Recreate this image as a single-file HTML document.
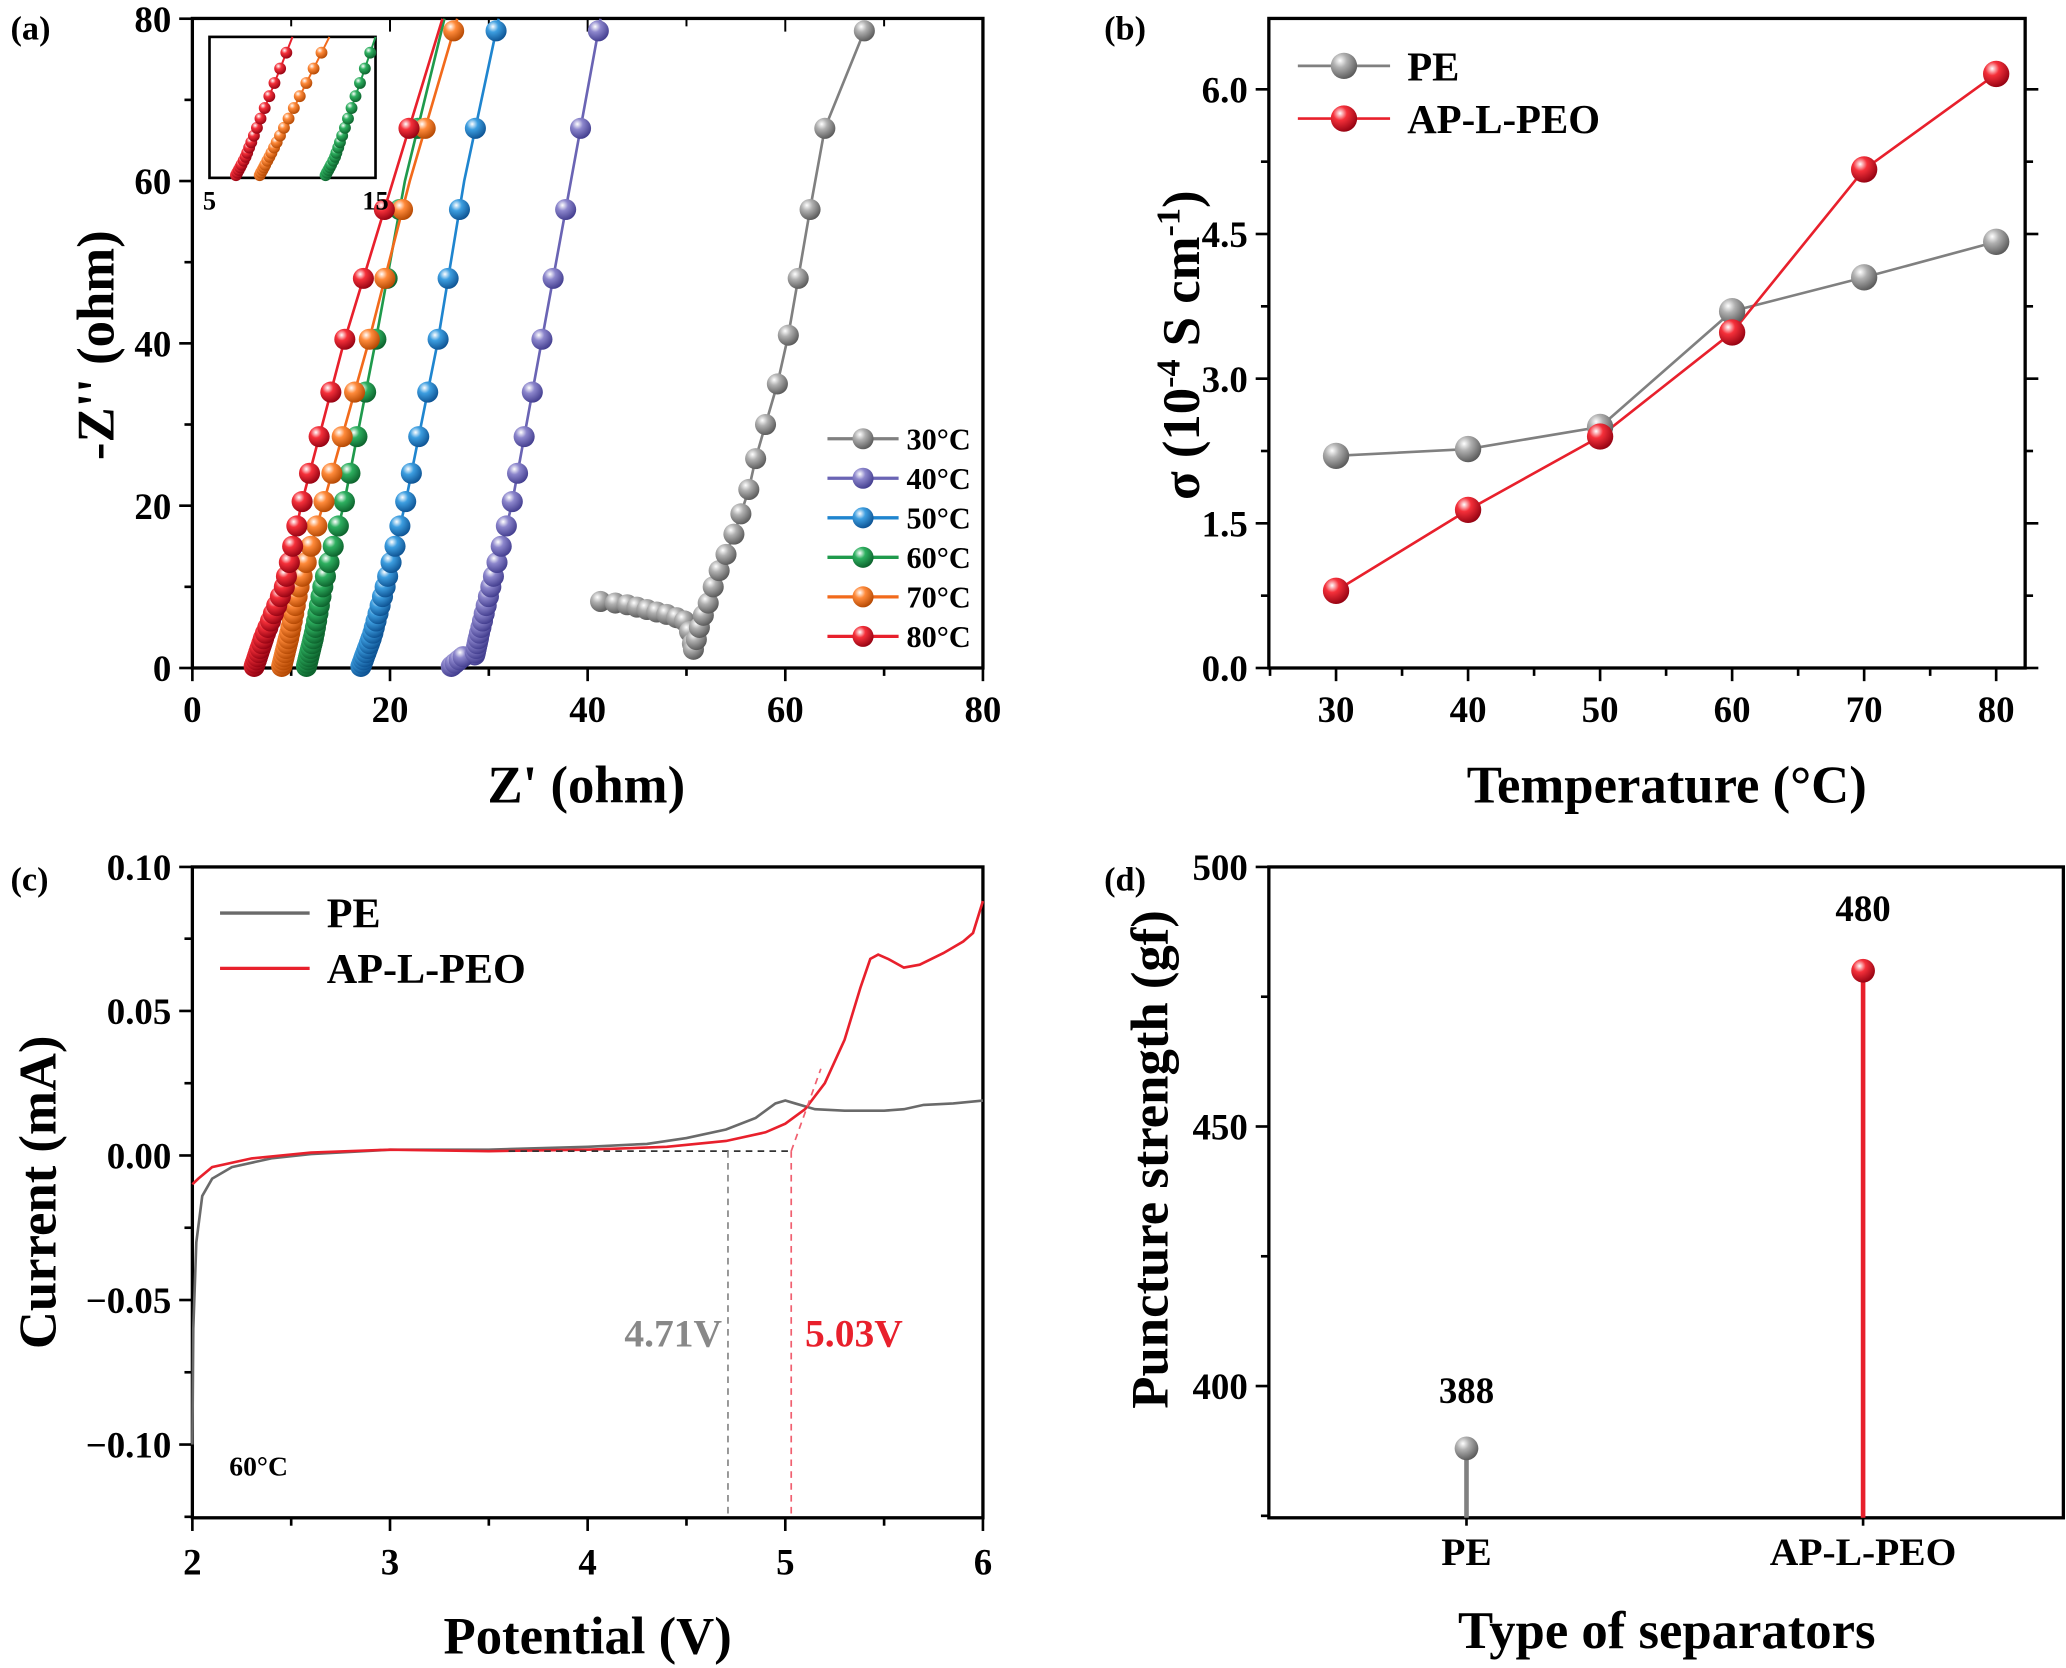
<!DOCTYPE html>
<html><head><meta charset="utf-8">
<style>html,body{margin:0;padding:0;background:#fff}svg{display:block}text{font-family:"Liberation Serif",serif;font-weight:bold}</style>
</head><body>
<svg id="s" width="2066" height="1668" viewBox="0 0 1568 1266" preserveAspectRatio="none" xmlns="http://www.w3.org/2000/svg">
<defs>
<radialGradient id="g_gray" cx="0.35" cy="0.3" r="0.75"><stop offset="0" stop-color="#fff"/><stop offset="0.35" stop-color="#b0b0b0"/><stop offset="1" stop-color="#555"/></radialGradient>
<radialGradient id="g_purple" cx="0.35" cy="0.3" r="0.75"><stop offset="0" stop-color="#fff"/><stop offset="0.35" stop-color="#8c86cc"/><stop offset="1" stop-color="#3f3a8c"/></radialGradient>
<radialGradient id="g_blue" cx="0.35" cy="0.3" r="0.75"><stop offset="0" stop-color="#fff"/><stop offset="0.35" stop-color="#3d9ee0"/><stop offset="1" stop-color="#0b4f8f"/></radialGradient>
<radialGradient id="g_green" cx="0.35" cy="0.3" r="0.75"><stop offset="0" stop-color="#fff"/><stop offset="0.35" stop-color="#2eb060"/><stop offset="1" stop-color="#0b5e2a"/></radialGradient>
<radialGradient id="g_orange" cx="0.35" cy="0.3" r="0.75"><stop offset="0" stop-color="#fff"/><stop offset="0.35" stop-color="#ff8a3a"/><stop offset="1" stop-color="#b04500"/></radialGradient>
<radialGradient id="g_red" cx="0.35" cy="0.3" r="0.75"><stop offset="0" stop-color="#fff"/><stop offset="0.35" stop-color="#f5303a"/><stop offset="1" stop-color="#900010"/></radialGradient>
</defs>
<g id="root"></g>
</svg>
<script>
const R=document.getElementById('root');let h='';
const C={gray:'#808080',purple:'#6a64b4',blue:'#1f85cf',green:'#1f9a4c',orange:'#f26a1b',red:'#e8202c'};
const TK=28,TT=40,PL=26;
function line(x1,y1,x2,y2,c,w,extra){h+=`<line x1="${x1}" y1="${y1}" x2="${x2}" y2="${y2}" stroke="${c}" stroke-width="${w}" ${extra||''}/>`;}
function txt(x,y,s,sz,anchor,extra){h+=`<text x="${x}" y="${y}" font-size="${sz}" text-anchor="${anchor||'start'}" ${extra||''}>${s}</text>`;}
function ball(x,y,r,c){h+=`<circle cx="${x.toFixed(1)}" cy="${y.toFixed(1)}" r="${r}" fill="url(#g_${c})"/>`;}
function poly(pts,c,w,extra){h+=`<polyline points="${pts.map(p=>p[0].toFixed(1)+','+p[1].toFixed(1)).join(' ')}" fill="none" stroke="${c}" stroke-width="${w}" ${extra||''}/>`;}
function box(x1,y1,x2,y2){h+=`<rect x="${x1}" y="${y1}" width="${x2-x1}" height="${y2-y1}" fill="none" stroke="#000" stroke-width="2.5"/>`;}
function interp(anch,y){for(let i=0;i<anch.length-1;i++){const a=anch[i],b=anch[i+1];if(y>=a[1]&&y<=b[1]){return a[0]+(b[0]-a[0])*(y-a[1])/(b[1]-a[1]);}}return anch[anch.length-1][0];}

// ---------- Panel (a)
const ax=v=>146+v*7.5, ay=v=>507-v*6.16;
box(146,14,746,507);
for(let v=0;v<=80;v+=10){const X=ax(v);line(X,507,X,v%20?513:517,'#000',2);line(X,14,X,v%20?20:24,'#000',1.5);if(v%20==0)txt(X,548,v,TK,'middle');}
for(let v=0;v<=80;v+=10){const Y=ay(v);line(146,Y,v%20?140:136,Y,'#000',2);if(v%20==0)txt(130,Y+10,v,TK,'end');}
txt(445,609,"Z' (ohm)",TT,'middle');
txt(0,0,"-Z'' (ohm)",TT,'middle','transform="translate(86,262) rotate(-90)"');
txt(8,30,"(a)",PL);
const ys=[0.3,0.6,1,1.4,1.9,2.4,3,3.6,4.3,5,5.8,6.7,7.7,8.8,10,11.3,13,15,17.5,20.5,24,28.5,34,40.5,48,56.5,66.5,78.5];
const curves=[
 ['purple',[[26,0],[27.5,1.5],[28.5,1.2],[29,4],[30.2,10],[32.3,20],[35.3,40],[38.3,60],[41.3,80]]],
 ['blue',[[17,0],[18.2,4],[19.5,10],[21.5,20],[24.8,40],[27.5,60],[31,80]]],
 ['green',[[11.5,0],[12.3,4],[13.2,10],[15.3,20],[18.5,40],[21.5,60],[25.5,80]],null,67],
 ['orange',[[9,0],[9.8,4],[10.8,10],[13.2,20],[17.8,40],[22,60],[26.8,80]],null,79],
 ['red',[[6.2,0],[7.3,4],[9.3,10],[11,20],[15.3,40],[20.3,60],[25.3,80]],null,72]
];
const g30=[[41.3,8.2],[42.8,8],[44,7.8],[45,7.5],[46,7.2],[47,6.9],[48,6.6],[49,6.2],[49.8,5.8],[50.3,4.5],[50.6,3],[50.7,2.3],[51,3.5],[51.3,5],[51.7,6.5],[52.2,8],[52.7,10],[53.3,12],[54,14],[54.8,16.5],[55.5,19],[56.3,22],[57,25.8],[58,30],[59.2,35],[60.3,41],[61.3,48],[62.5,56.5],[64,66.5],[68,78.5]];
poly(g30.map(p=>[ax(p[0]),ay(p[1])]),C.gray,2);
g30.forEach(p=>ball(ax(p[0]),ay(p[1]),8,'gray'));
curves.forEach(cv=>{
 const [c,anch,,ymax]=cv;
 poly(anch.map(p=>[ax(p[0]),ay(p[1])]),C[c],2);
 const lim=ymax||80;
 for(let y=0.2;y<4;y+=0.35){ball(ax(interp(anch,y)),ay(y),8,c);}
 ys.forEach(y=>{if(y<=lim)ball(ax(interp(anch,y)),ay(y),8,c);});
});
h+=`<rect x="159" y="28" width="126" height="107" fill="#fff" stroke="#000" stroke-width="2"/>`;
txt(159,159,"5",20,'middle');txt(285,159,"15",20,'middle');
[['red',178,222],['orange',196,250],['green',246,285]].forEach(([c,x0,x1])=>{
 poly([[x0,135],[x0+8,120],[x1,28]],C[c],1.5);
 const yy=[133,131,129,127,125,122,119,116,112,108,103,97,90,82,73,63,52,40];
 yy.forEach(y=>{let x=y>120?x0+(135-y)/15*8:x0+8+(x1-x0-8)*(120-y)/92;if(x<284)ball(x,y,4.5,c);});
});
[['gray','30°C'],['purple','40°C'],['blue','50°C'],['green','60°C'],['orange','70°C'],['red','80°C']].forEach(([c,s],i)=>{const Y=333+i*30;line(628,Y,682,Y,C[c],2.5);ball(655,Y,8,c);txt(688,Y+8,s,23);});

// ---------- Panel (b)
const bx=v=>1014+(v-30)*10.02, by=v=>507-v*73.2;
box(963,14,1537,507);
for(let v=25;v<=85;v+=5){const X=bx(v);if(X<963||X>1537)continue;line(X,507,X,v%10?513:517,'#000',2);if(v%10==0)txt(X,548,v,TK,'middle');}
for(let i=0;i<=13;i++){const v=i*0.75;const Y=by(v);if(Y<14)continue;line(963,Y,i%2?957:953,Y,'#000',2);line(1537,Y,i%2?1543:1547,Y,'#000',2);if(i%2==0)txt(947,Y+10,v.toFixed(1),TK,'end');}
txt(1265,609,"Temperature (°C)",TT,'middle');
txt(0,0,'σ (10<tspan dy="-15" font-size="26">-4</tspan><tspan dy="15"> S cm</tspan><tspan dy="-15" font-size="26">-1</tspan><tspan dy="15">)</tspan>',TT,'middle','transform="translate(910,262) rotate(-90)"');
txt(838,30,"(b)",PL);
const T=[30,40,50,60,70,80],PE=[2.2,2.27,2.5,3.7,4.05,4.42],AP=[0.8,1.64,2.4,3.48,5.17,6.16];
poly(T.map((t,i)=>[bx(t),by(PE[i])]),C.gray,2);
poly(T.map((t,i)=>[bx(t),by(AP[i])]),C.red,2);
T.forEach((t,i)=>{ball(bx(t),by(PE[i]),10,'gray');});
T.forEach((t,i)=>{ball(bx(t),by(AP[i]),10,'red');});
line(985,50,1055,50,C.gray,2);ball(1020,50,10,'gray');txt(1068,61,"PE",31);
line(985,90,1055,90,C.red,2);ball(1020,90,10,'red');txt(1068,101,"AP-L-PEO",31);

// ---------- Panel (c)
const cx=v=>146+(v-2)*150, cy=v=>877-v*2194;
box(146,658,746,1152);
for(let v=2;v<=6;v+=0.5){const X=cx(v);line(X,1152,X,v%1?1158:1162,'#000',2);if(v%1==0)txt(X,1195,v,TK,'middle');}
for(let i=-5;i<=4;i++){const v=i*0.025;let Y=cy(v);if(Y>1153||Y<656)continue;if(Y<658)Y=658;line(146,Y,i%2?140:136,Y,'#000',2);if(i%2==0)txt(130,Y+10,(v<0?'\u22120':'0')+Math.abs(v).toFixed(2).slice(1),TK,'end');}
txt(446,1255,"Potential (V)",TT,'middle');
txt(0,0,"Current (mA)",TT,'middle','transform="translate(42,905) rotate(-90)"');
txt(8,676,"(c)",PL);
const pe=[[2,-0.1],[2.005,-0.06],[2.02,-0.03],[2.05,-0.014],[2.1,-0.008],[2.2,-0.004],[2.4,-0.001],[2.6,0.0005],[3,0.002],[3.5,0.002],[4,0.003],[4.3,0.004],[4.5,0.006],[4.7,0.009],[4.85,0.013],[4.95,0.018],[5.0,0.019],[5.05,0.018],[5.15,0.016],[5.3,0.0155],[5.5,0.0155],[5.6,0.016],[5.7,0.0175],[5.85,0.018],[6,0.019]];
const ap=[[2,-0.01],[2.03,-0.008],[2.1,-0.004],[2.3,-0.001],[2.6,0.001],[3,0.002],[3.5,0.0015],[4,0.002],[4.4,0.003],[4.7,0.005],[4.9,0.008],[5.0,0.011],[5.1,0.016],[5.2,0.025],[5.3,0.04],[5.38,0.058],[5.43,0.068],[5.47,0.0695],[5.52,0.068],[5.6,0.065],[5.68,0.066],[5.8,0.07],[5.9,0.074],[5.95,0.077],[6,0.088]];
poly(pe.map(p=>[cx(p[0]),cy(p[1])]),'#6a6a6a',2);
poly(ap.map(p=>[cx(p[0]),cy(p[1])]),C.red,2);
line(cx(3.6),cy(0.0015),cx(5.03),cy(0.0015),'#333',1.3,'stroke-dasharray="5,4"');
line(cx(4.71),cy(0.0015),cx(4.71),1152,'#888',1.3,'stroke-dasharray="5,4"');
line(cx(5.03),cy(0.0015),cx(5.03),1152,'#f06070',1.3,'stroke-dasharray="5,4"');
line(cx(5.03),cy(0.0015),cx(5.18),cy(0.03),'#f06070',1.3,'stroke-dasharray="5,4"');
txt(548,1022,"4.71V",30,'end','fill="#888"');txt(611,1022,"5.03V",30,'start','fill="#e8202c"');
txt(174,1120,"60°C",21);
line(167,693,235,693,'#6a6a6a',2.5);txt(248,704,"PE",32);
line(167,735,235,735,C.red,2.5);txt(248,746,"AP-L-PEO",32);

// ---------- Panel (d)
const dy=v=>658+(500-v)*3.94;
box(963,658,1566,1152);
for(let v=375;v<=500;v+=25){const Y=dy(v);line(963,Y,v%50?957:953,Y,'#000',2);if(v%50==0)txt(947,Y+10,v,TK,'end');}
line(1113,1152,1113,1158,'#000',2);line(1414,1152,1414,1158,'#000',2);
txt(1113,1188,"PE",30,'middle');txt(1414,1188,"AP-L-PEO",30,'middle');
txt(1265,1251,"Type of separators",TT,'middle');
txt(0,0,"Puncture strength (gf)",TT,'middle','transform="translate(886,880) rotate(-90)"');
txt(838,676,"(d)",PL);
line(1113,dy(388),1113,1152,'#808080',3.5);ball(1113,dy(388),9,'gray');txt(1113,1065,"388",28,'middle');
line(1414,dy(480),1414,1152,C.red,3.5);ball(1414,dy(480),9,'red');txt(1414,699,"480",28,'middle');
R.innerHTML=h;
</script>
</body></html>
